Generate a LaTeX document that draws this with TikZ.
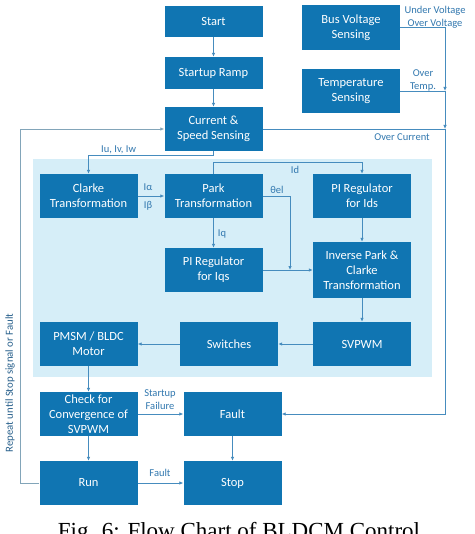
\documentclass[tikz,border=0pt]{standalone}
\usepackage{fontspec}
\setmainfont{Carlito}
\newfontfamily\capfont{Liberation Serif}
\usetikzlibrary{arrows.meta}
\definecolor{boxblue}{RGB}{16,117,178}
\definecolor{panelblue}{RGB}{214,238,248}
\definecolor{wireblue}{RGB}{70,140,190}
\definecolor{wiregray}{RGB}{130,165,185}
\definecolor{labelblue}{RGB}{50,120,175}

\begin{document}
\begin{tikzpicture}[x=1pt,y=-1pt]
      \tikzset{block/.style={fill=boxblue,
          text=white,
          minimum width=98pt,
          minimum height=#1,
          inner sep=0pt,
          align=center,
          font=\fontsize{12.5}{15}\selectfont},
        block/.default=44pt,
        wire/.style={draw=wireblue, line width=0.8pt, -{Latex[length=4pt,width=3.5pt]}},
        tag/.style={text=labelblue, inner sep=1pt, align=center,
          font=\fontsize{10.5}{13}\selectfont}
      }
      \fill [white] (0,0) rectangle (474,534);
      \useasboundingbox (0,0) rectangle (474,534);
      \fill [panelblue] (33,159) rectangle (432,377);
      \node [block=31pt] (start) at (213.5,21.5) {Start};
      \node [block=32pt] (ramp) at (213.5,73) {Startup Ramp};
      \node [block] (sense) at (213.5,129) {Current \&\\Speed Sensing};
      \node [block=45pt] (bus) at (351,27.5) {Bus Voltage\\Sensing};
      \node [block] (temp) at (351,91) {Temperature\\Sensing};
      \node [block] (clarke) at (88.5,196) {Clarke\\Transformation};
      \node [block] (park) at (213.5,196) {Park\\Transformation};
      \node [block] (pids) at (362,196) {PI Regulator\\for Ids};
      \node [block] (piqs) at (213.5,270) {PI Regulator\\for Iqs};
      \node [block=56pt] (invpark) at (362,270) {Inverse Park \&\\Clarke\\Transformation};
      \node [block] (motor) at (88.5,344) {PMSM / BLDC\\Motor};
      \node [block] (switch) at (229,344) {Switches};
      \node [block] (svpwm) at (362,344) {SVPWM};
      \node [block] (check) at (88.5,414) {Check for\\Convergence of\\SVPWM};
      \node [block] (fault) at (232.5,414) {Fault};
      \node [block] (run) at (88.5,483) {Run};
      \node [block] (stop) at (232.5,483) {Stop};
      \coordinate (theta) at (290,270);
      \coordinate (bvj) at (445,27.5);
      \coordinate (tj) at (445,91);
      \coordinate (cj) at (445,129);
      % start-up chain
      \draw [wire] (start) -- (ramp);
      \draw [wire] (ramp) -- (sense);
      \draw [wire] (sense.south) -- ++(0,4) -| (clarke.north);
      \node [tag, anchor=base west] at (100,153) {Iu, Iv, Iw};
      % control loop
      \draw [wire] (clarke) -- (park);
      \node [tag] at (148,187) {Iα};
      \node [tag] at (148,206) {Iβ};
      \draw [wire] (park.north) -- ++(0,-11) -| (pids.north);
      \node [tag] at (295,170) {Id};
      \draw [wire] (park.east) -| (theta);
      \node [tag] at (277,190) {θel};
      \draw [wire] (park) -- (piqs);
      \node [tag] at (222,234) {Iq};
      \draw [wire] (piqs) -- (invpark);
      \draw [wire] (pids) -- (invpark);
      \draw [wire] (invpark) -- (svpwm);
      \draw [wire] (svpwm) -- (switch);
      \draw [wire] (switch) -- (motor);
      \draw [wire] (motor) -- (check);
      % end of run
      \draw [wire] (check) -- (fault);
      \node [tag] at (160,400) {Startup\\Failure};
      \draw [wire] (check) -- (run);
      \draw [wire] (fault) -- (stop);
      \draw [wire] (run) -- (stop);
      \node [tag] at (160,473) {Fault};
      \draw [wire, draw=wiregray] (run.west) -- ++(-19,0) |- (sense.west);
      \node [tag, rotate=90, text=labelblue!80!black, font=\fontsize{10.8}{13}\selectfont] at (10,383) {Repeat until Stop signal or Fault};
      % fault bus
      \draw [wire, -] (bus.east) -- (bvj);
      \draw [wire] (bvj) -- (tj);
      \draw [wire, -] (temp.east) -- (tj);
      \draw [wire] (tj) -- (cj);
      \draw [wire, -] (sense.east) -- (cj);
      \draw [wire] (cj) |- (fault.east);
      \node [tag] at (435,17.5) {Under Voltage\\Over Voltage};
      \node [tag] at (423,80) {Over\\Temp.};
      \node [tag] at (402,137) {Over Current};
      \node [font=\capfont\fontsize{23}{26}\selectfont, anchor=base] (caption) at (239,538) {Fig. 6: Flow Chart of BLDCM Control};
    \end{tikzpicture}
\end{document}
